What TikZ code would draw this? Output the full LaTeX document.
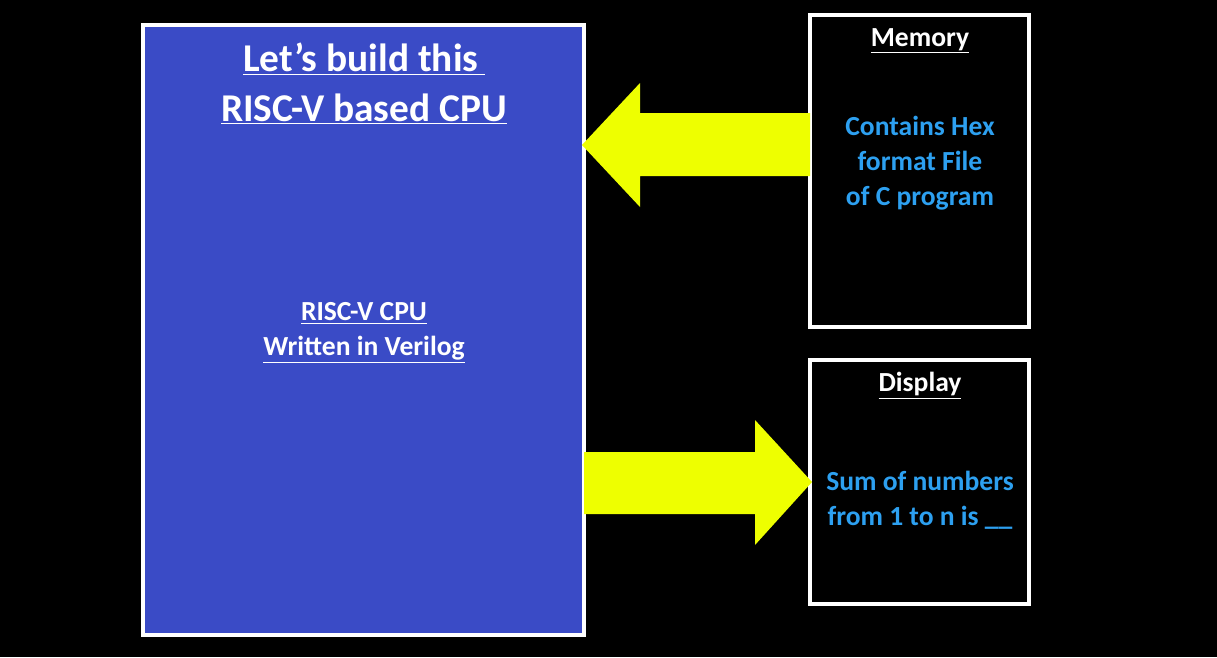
\documentclass[tikz,border=0pt]{standalone}
\usepackage{fontspec}
\setmainfont{Carlito}
\usetikzlibrary{positioning}
\definecolor{cpublue}{RGB}{58,75,198}
\definecolor{arrowyellow}{RGB}{238,255,0}
\definecolor{txtblue}{RGB}{45,160,240}
\begin{document}
\begin{tikzpicture}[x=0.02cm,y=-0.02cm]
\tikzstyle{box}=[draw=white,line width=2pt]
\tikzstyle{big}=[white,font=\fontsize{22.4}{28}\selectfont\bfseries,align=center]
\tikzstyle{head}=[white,font=\fontsize{15.7}{19}\selectfont\bfseries]
\tikzstyle{body}=[txtblue,font=\fontsize{15.7}{20}\selectfont\bfseries,align=center]
\fill[black] (0,0) rectangle (1217,657);

% cpu
\draw[box,fill=cpublue] (143,25) rectangle (584,635);
\node (title) at (364,84) [big] {\underline{Let’s build this\,}\\\underline{RISC-V based CPU}};
\node (cpu) at (364,333) [white,font=\fontsize{15.7}{20}\selectfont\bfseries,align=center] {\underline{RISC-V CPU}\\\underline{Written in Verilog}};

% memory
\draw[box] (810,15) rectangle (1029,327);
\node (mem) at (920,41) [head] {\underline{Memory}};
\node (hex) at (920,163) [body] {Contains Hex\\format File\\of C program};

% display
\draw[box] (810,360) rectangle (1029,604);
\node (disp) at (920,386) [head] {\underline{Display}};
\node (sum) at (920,500) [body] {Sum of numbers\\from 1 to n is \_\_};

% arrows
\fill[arrowyellow] (582,145)--(640,83)--(640,113)--(810,113)--(810,176)--(640,176)--(640,207)--cycle;
\fill[arrowyellow] (812,482)--(755,420)--(755,452)--(584,452)--(584,514)--(755,514)--(755,545)--cycle;
\end{tikzpicture}
\end{document}
